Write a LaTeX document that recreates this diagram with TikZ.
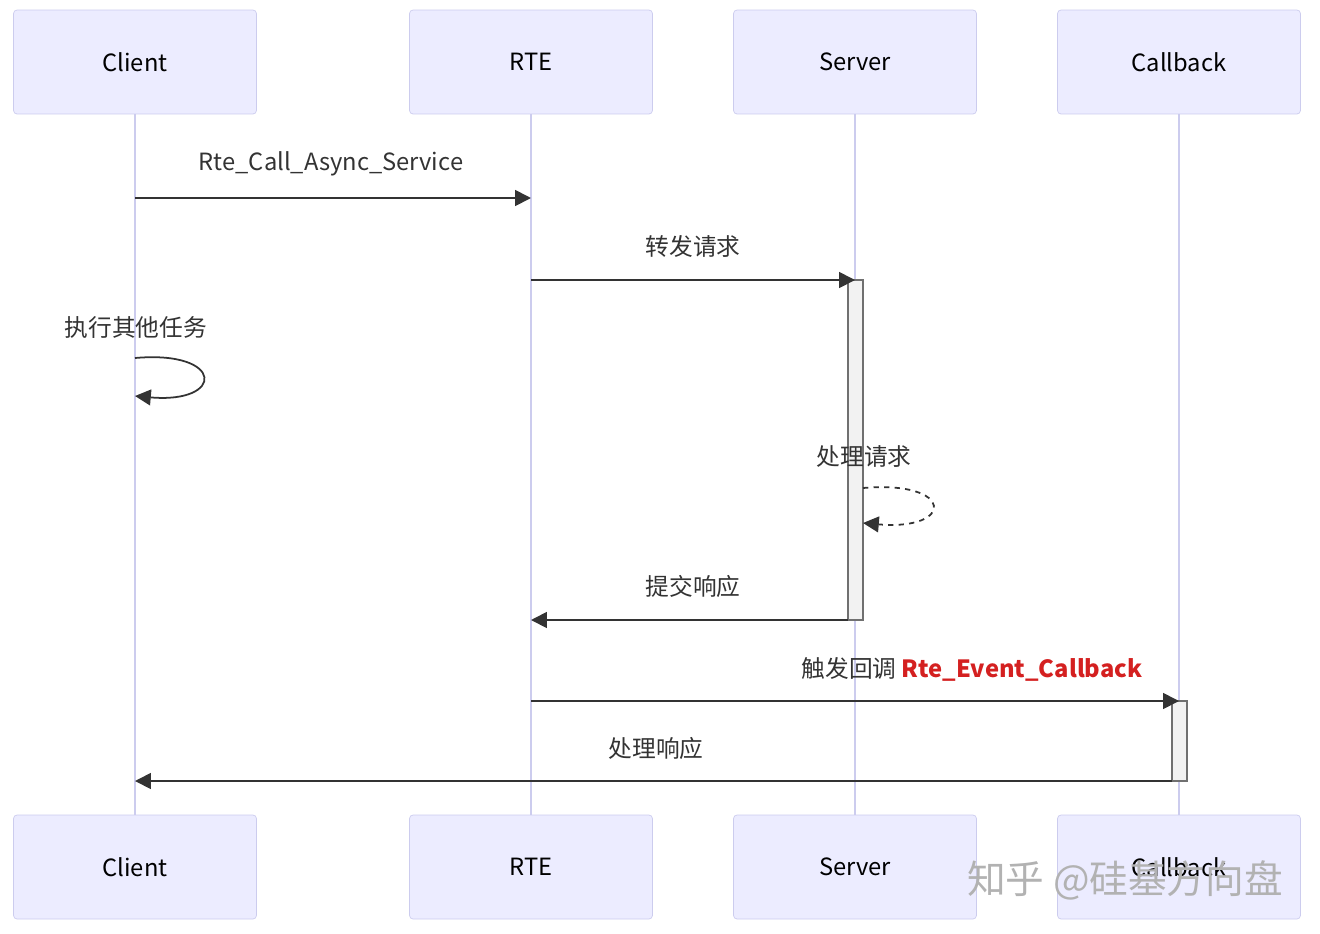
\documentclass[tikz,border=0pt]{standalone}
\usepackage{fontspec}
\setmainfont{Noto Sans CJK SC}
\usetikzlibrary{arrows.meta}
\definecolor{actfill}{HTML}{ECECFF}
\definecolor{actline}{HTML}{CCCCEE}
\definecolor{msgline}{HTML}{333333}
\definecolor{hilite}{HTML}{D42020}
\begin{document}
\begin{tikzpicture}[x=0.02cm,y=-0.02cm,font=\fontsize{13.5}{16}\selectfont,
  actor/.style={draw=actline,fill=actfill,rounded corners=2pt,minimum width=4.86cm,minimum height=2.08cm,text=black},
  life/.style={actline,line width=1.5pt},
  msg/.style={msgline,line width=1pt,-{Triangle[length=9pt,width=9pt]}},
  lbl/.style={text=msgline,anchor=base},
  activ/.style={draw=msgline!70,fill=black!5,line width=0.7pt}]
\useasboundingbox (0,0) rectangle (1320,934);
% actors
\foreach \nm/\x/\txt in {client/135/Client,rte/531/RTE,server/855/Server,callback/1179/Callback}{
  \node[actor] (\nm top) at (\x,62) {\txt};
  \node[actor] (\nm bot) at (\x,867) {\txt};
  \draw[life] (\nm top.south) -- (\nm bot.north);
}
% activations
\draw[activ] (848,280) rectangle (863,620);
\draw[activ] (1172,701) rectangle (1187,781);
% messages
\coordinate (c1) at (135,198); \coordinate (r1) at (531,198);
\draw[msg] (c1) -- (r1);
\node[lbl] at (331,170) {Rte\_Call\_Async\_Service};
\coordinate (r2) at (531,280); \coordinate (s2) at (855,280);
\draw[msg] (r2) -- (s2);
\node[lbl] at (693,255) {转发请求};
\coordinate (c3) at (135,358); \coordinate (c4) at (135,396);
\draw[msg] (c3) .. controls (225,350) and (225,404) .. (c4);
\node[lbl] at (136,336) {执行其他任务};
\coordinate (s5) at (863,488); \coordinate (s6) at (863,523);
\draw[msg,dashed] (s5) .. controls (955,480) and (955,531) .. (s6);
\node[lbl] at (864,465) {处理请求};
\coordinate (s7) at (848,620); \coordinate (r7) at (531,620);
\draw[msg] (s7) -- (r7);
\node[lbl] at (693,595) {提交响应};
\coordinate (r8) at (531,701); \coordinate (b8) at (1179,701);
\draw[msg] (r8) -- (b8);
\node[lbl] at (972,677) {触发回调 \textcolor{hilite}{\textbf{Rte\_Event\_Callback}}};
\coordinate (b9) at (1172,781); \coordinate (c9) at (135,781);
\draw[msg] (b9) -- (c9);
\node[lbl] at (656,757) {处理响应};
% watermark
\node[text=black!30,font=\fontsize{22}{26}\selectfont,anchor=base] at (1125,893) {知乎 @硅基方向盘};
\end{tikzpicture}
\end{document}
